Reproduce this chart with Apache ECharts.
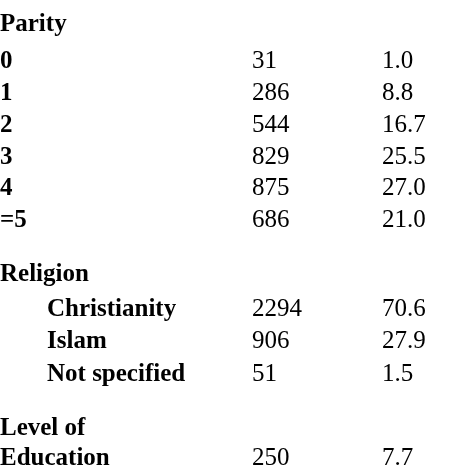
<!DOCTYPE html>
<html><head><meta charset="utf-8">
<script src="https://cdn.jsdelivr.net/npm/echarts@6/dist/echarts.min.js"></script>
<style>html,body{margin:0;padding:0;background:#fff}#c{width:474px;height:474px}</style>
</head><body><div id="c"></div>
<script>
const headers = ["Parity", "Religion", "Level of"];
const parityLabels = ["0", "1", "2", "3", "4", "=5"];
const parityCounts = ["31", "286", "544", "829", "875", "686"];
const parityPct = ["1.0", "8.8", "16.7", "25.5", "27.0", "21.0"];
const religionLabels = ["Christianity", "Islam", "Not specified"];
const religionCounts = ["2294", "906", "51"];
const religionPct = ["70.6", "27.9", "1.5"];
const eduLabels = ["Education"];
const eduCounts = ["250"];
const eduPct = ["7.7"];

const rows = [];
rows.push({l: headers[0], b: true, ind: 0, y: 26});
const py = [63, 95, 127, 159, 190, 222];
parityLabels.forEach((l, i) => rows.push({l, c: parityCounts[i], p: parityPct[i], ind: 0, y: py[i]}));
rows.push({l: headers[1], ind: 0, y: 276});
const ry = [311, 343, 376];
religionLabels.forEach((l, i) => rows.push({l, c: religionCounts[i], p: religionPct[i], ind: 47, y: ry[i]}));
rows.push({l: headers[2], ind: 0, y: 430});
eduLabels.forEach((l, i) => rows.push({l, c: eduCounts[i], p: eduPct[i], ind: 0, y: 460}));

const font = "'Liberation Serif', 'DejaVu Serif', serif";
const els = [];
rows.forEach(r => {
  els.push({type: 'text', left: r.ind, top: r.y - 14, style: {text: r.l, font: 'bold 25px ' + font, fill: '#000'}});
  if (r.c !== undefined) {
    els.push({type: 'text', left: 252, top: r.y - 14, style: {text: r.c, font: '25px ' + font, fill: '#000'}});
    els.push({type: 'text', left: 382, top: r.y - 14, style: {text: r.p, font: '25px ' + font, fill: '#000'}});
  }
});
const chart = echarts.init(document.getElementById('c'));
chart.setOption({backgroundColor: '#fff', graphic: els});
</script></body></html>
